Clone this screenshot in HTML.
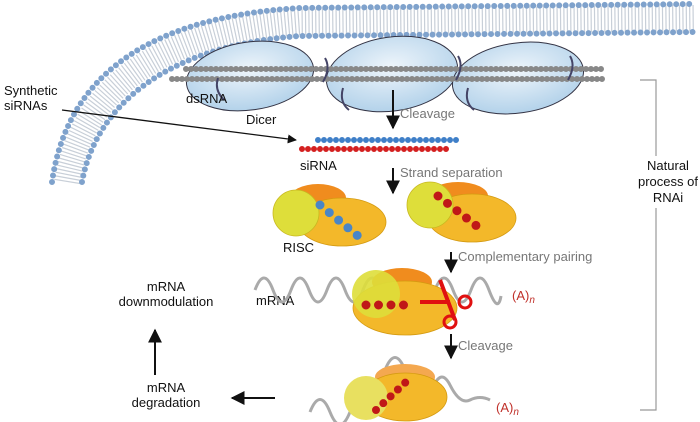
<!DOCTYPE html>
<html><head><style>
html,body{margin:0;padding:0;background:#fff;}
svg{display:block;font-family:"Liberation Sans",sans-serif;}
</style></head><body>
<svg width="700" height="422" viewBox="0 0 700 422" xmlns="http://www.w3.org/2000/svg">
<defs>
<radialGradient id="dg" cx="50%" cy="40%" r="60%"><stop offset="0" stop-color="#eef5fb"/><stop offset="1" stop-color="#b3d2ea"/></radialGradient>
<marker id="ah" viewBox="0 0 10 10" refX="9" refY="5" markerWidth="7" markerHeight="7" orient="auto"><path d="M0,0 L10,5 L0,10 z" fill="#111"/></marker>
</defs>
<!-- membrane -->
<path d="M67,182 C80,100 145,32 300,22 L695,18" fill="none" stroke="#c8cfd8" stroke-width="26" stroke-dasharray="1.2 2.2"/>
<path d="M52,182 C65,90 130,18 300,8 L695,4" fill="none" stroke="#7fa2cc" stroke-width="6" stroke-linecap="round" stroke-dasharray="0 6.5"/>
<path d="M82,182 C95,110 160,46 300,36 L695,32" fill="none" stroke="#7fa2cc" stroke-width="6" stroke-linecap="round" stroke-dasharray="0 6.5"/>
<!-- dicers -->
<ellipse cx="250" cy="76" rx="64" ry="34" fill="url(#dg)" stroke="#334" stroke-width="1" transform="rotate(-8 250 76)"/>
<ellipse cx="392" cy="74" rx="66" ry="37" fill="url(#dg)" stroke="#334" stroke-width="1" transform="rotate(-8 392 74)"/>
<ellipse cx="518" cy="78" rx="66" ry="35" fill="url(#dg)" stroke="#334" stroke-width="1" transform="rotate(-8 518 78)"/>
<!-- dsRNA -->
<line x1="186" y1="69" x2="605" y2="69" stroke="#888" stroke-width="6" stroke-linecap="round" stroke-dasharray="0 5"/>
<line x1="172" y1="79" x2="605" y2="79" stroke="#888" stroke-width="6" stroke-linecap="round" stroke-dasharray="0 5"/>
<path d="M218,78 q-4,12 6,22 M325,58 q6,10 -2,24 M343,88 q-4,14 6,22 M458,56 q6,10 -2,24 M468,88 q-4,14 6,22 M570,56 q6,10 -2,24" stroke="#446" stroke-width="2" fill="none"/>
<!-- siRNA -->
<line x1="318" y1="140" x2="462" y2="140" stroke="#3f7fc8" stroke-width="6" stroke-linecap="round" stroke-dasharray="0 6"/>
<line x1="302" y1="149" x2="448" y2="149" stroke="#d42020" stroke-width="6" stroke-linecap="round" stroke-dasharray="0 6"/>
<!-- text -->
<g font-size="13" fill="#111">
<text x="4" y="95">Synthetic</text><text x="4" y="110">siRNAs</text>
<text x="186" y="103">dsRNA</text>
<text x="246" y="124">Dicer</text>
<text x="300" y="170">siRNA</text>
<text x="283" y="252">RISC</text>
<text x="256" y="305">mRNA</text>
<text x="166" y="291" text-anchor="middle">mRNA</text><text x="166" y="306" text-anchor="middle">downmodulation</text>
<text x="166" y="392" text-anchor="middle">mRNA</text><text x="166" y="407" text-anchor="middle">degradation</text>
</g>
<g font-size="13" fill="#777">
<text x="400" y="118">Cleavage</text>
<text x="400" y="177">Strand separation</text>
<text x="458" y="261">Complementary pairing</text>
<text x="458" y="350">Cleavage</text>
</g>
<!-- bracket -->
<path d="M640,80 H656 V410 H640" fill="none" stroke="#999" stroke-width="1.2"/>
<rect x="636" y="156" width="64" height="52" fill="#fff"/>
<g font-size="13" fill="#111" text-anchor="middle">
<text x="668" y="170">Natural</text><text x="668" y="186">process of</text><text x="668" y="202">RNAi</text>
</g>
<!-- arrows -->
<g stroke="#111" stroke-width="2" fill="none" marker-end="url(#ah)">
<line x1="62" y1="110" x2="296" y2="140" stroke-width="1.3"/>
<line x1="393" y1="90" x2="393" y2="128"/>
<line x1="393" y1="168" x2="393" y2="193"/>
<line x1="451" y1="252" x2="451" y2="272"/>
<line x1="451" y1="334" x2="451" y2="358"/>
<line x1="275" y1="398" x2="232" y2="398"/>
<line x1="155" y1="375" x2="155" y2="330"/>
</g>
<!-- RISC left -->
<ellipse cx="318" cy="198" rx="28" ry="14" fill="#f08c1e"/>
<ellipse cx="342" cy="222" rx="44" ry="24" fill="#f3b82a" stroke="#d49a10" stroke-width="0.8"/>
<circle cx="296" cy="213" r="23" fill="#dede3a" stroke="#c8b820" stroke-width="0.8"/>
<line x1="320" y1="205" x2="358" y2="236" stroke="#4a86c6" stroke-width="9" stroke-linecap="round" stroke-dasharray="0 12"/>
<!-- RISC right -->
<ellipse cx="458" cy="196" rx="30" ry="14" fill="#f08c1e"/>
<ellipse cx="472" cy="218" rx="44" ry="24" fill="#f3b82a" stroke="#d49a10" stroke-width="0.8"/>
<circle cx="430" cy="205" r="23" fill="#dede3a" stroke="#c8b820" stroke-width="0.8"/>
<line x1="438" y1="196" x2="478" y2="227" stroke="#c01818" stroke-width="9" stroke-linecap="round" stroke-dasharray="0 12"/>
<!-- mRNA complex -->
<path d="M255,290 q9,-24 18,0 t18,0 t18,0 t18,0 t18,0 t18,0 t18,0 t18,0 t18,0 t18,0 t18,0 t18,0 t18,0 t12,6" fill="none" stroke="#aaa" stroke-width="3"/>
<ellipse cx="402" cy="282" rx="30" ry="14" fill="#f08c1e"/>
<ellipse cx="405" cy="308" rx="52" ry="27" fill="#f3b82a" stroke="#d49a10" stroke-width="0.8"/>
<circle cx="376" cy="294" r="24" fill="#dede3a" opacity="0.9"/>
<line x1="366" y1="305" x2="416" y2="305" stroke="#c01818" stroke-width="9" stroke-linecap="round" stroke-dasharray="0 12.5"/>
<path d="M420,302 L450,302 M440,280 L455,320" stroke="#e01010" stroke-width="4"/>
<circle cx="465" cy="302" r="6" fill="none" stroke="#e01010" stroke-width="3"/>
<circle cx="450" cy="322" r="6" fill="none" stroke="#e01010" stroke-width="3"/>
<g font-size="13" fill="#c0302a">
<text x="512" y="300">(A)<tspan font-style="italic" font-size="10" dy="3">n</tspan></text>
<text x="496" y="412">(A)<tspan font-style="italic" font-size="10" dy="3">n</tspan></text>
</g>
<!-- bottom complex -->
<path d="M310,412 q10,-25 20,0 t20,0 t20,0 M385,370 q10,-25 20,0 M430,395 q10,-30 20,-10 t20,15 t20,0" fill="none" stroke="#aaa" stroke-width="3"/>
<ellipse cx="405" cy="377" rx="30" ry="13" fill="#f4a850"/>
<ellipse cx="405" cy="397" rx="42" ry="24" fill="#f3b82a" stroke="#d49a10" stroke-width="0.8"/>
<circle cx="366" cy="398" r="22" fill="#e8e060"/>
<line x1="376" y1="410" x2="407" y2="381" stroke="#c01818" stroke-width="8" stroke-linecap="round" stroke-dasharray="0 10"/>
</svg>
</body></html>
